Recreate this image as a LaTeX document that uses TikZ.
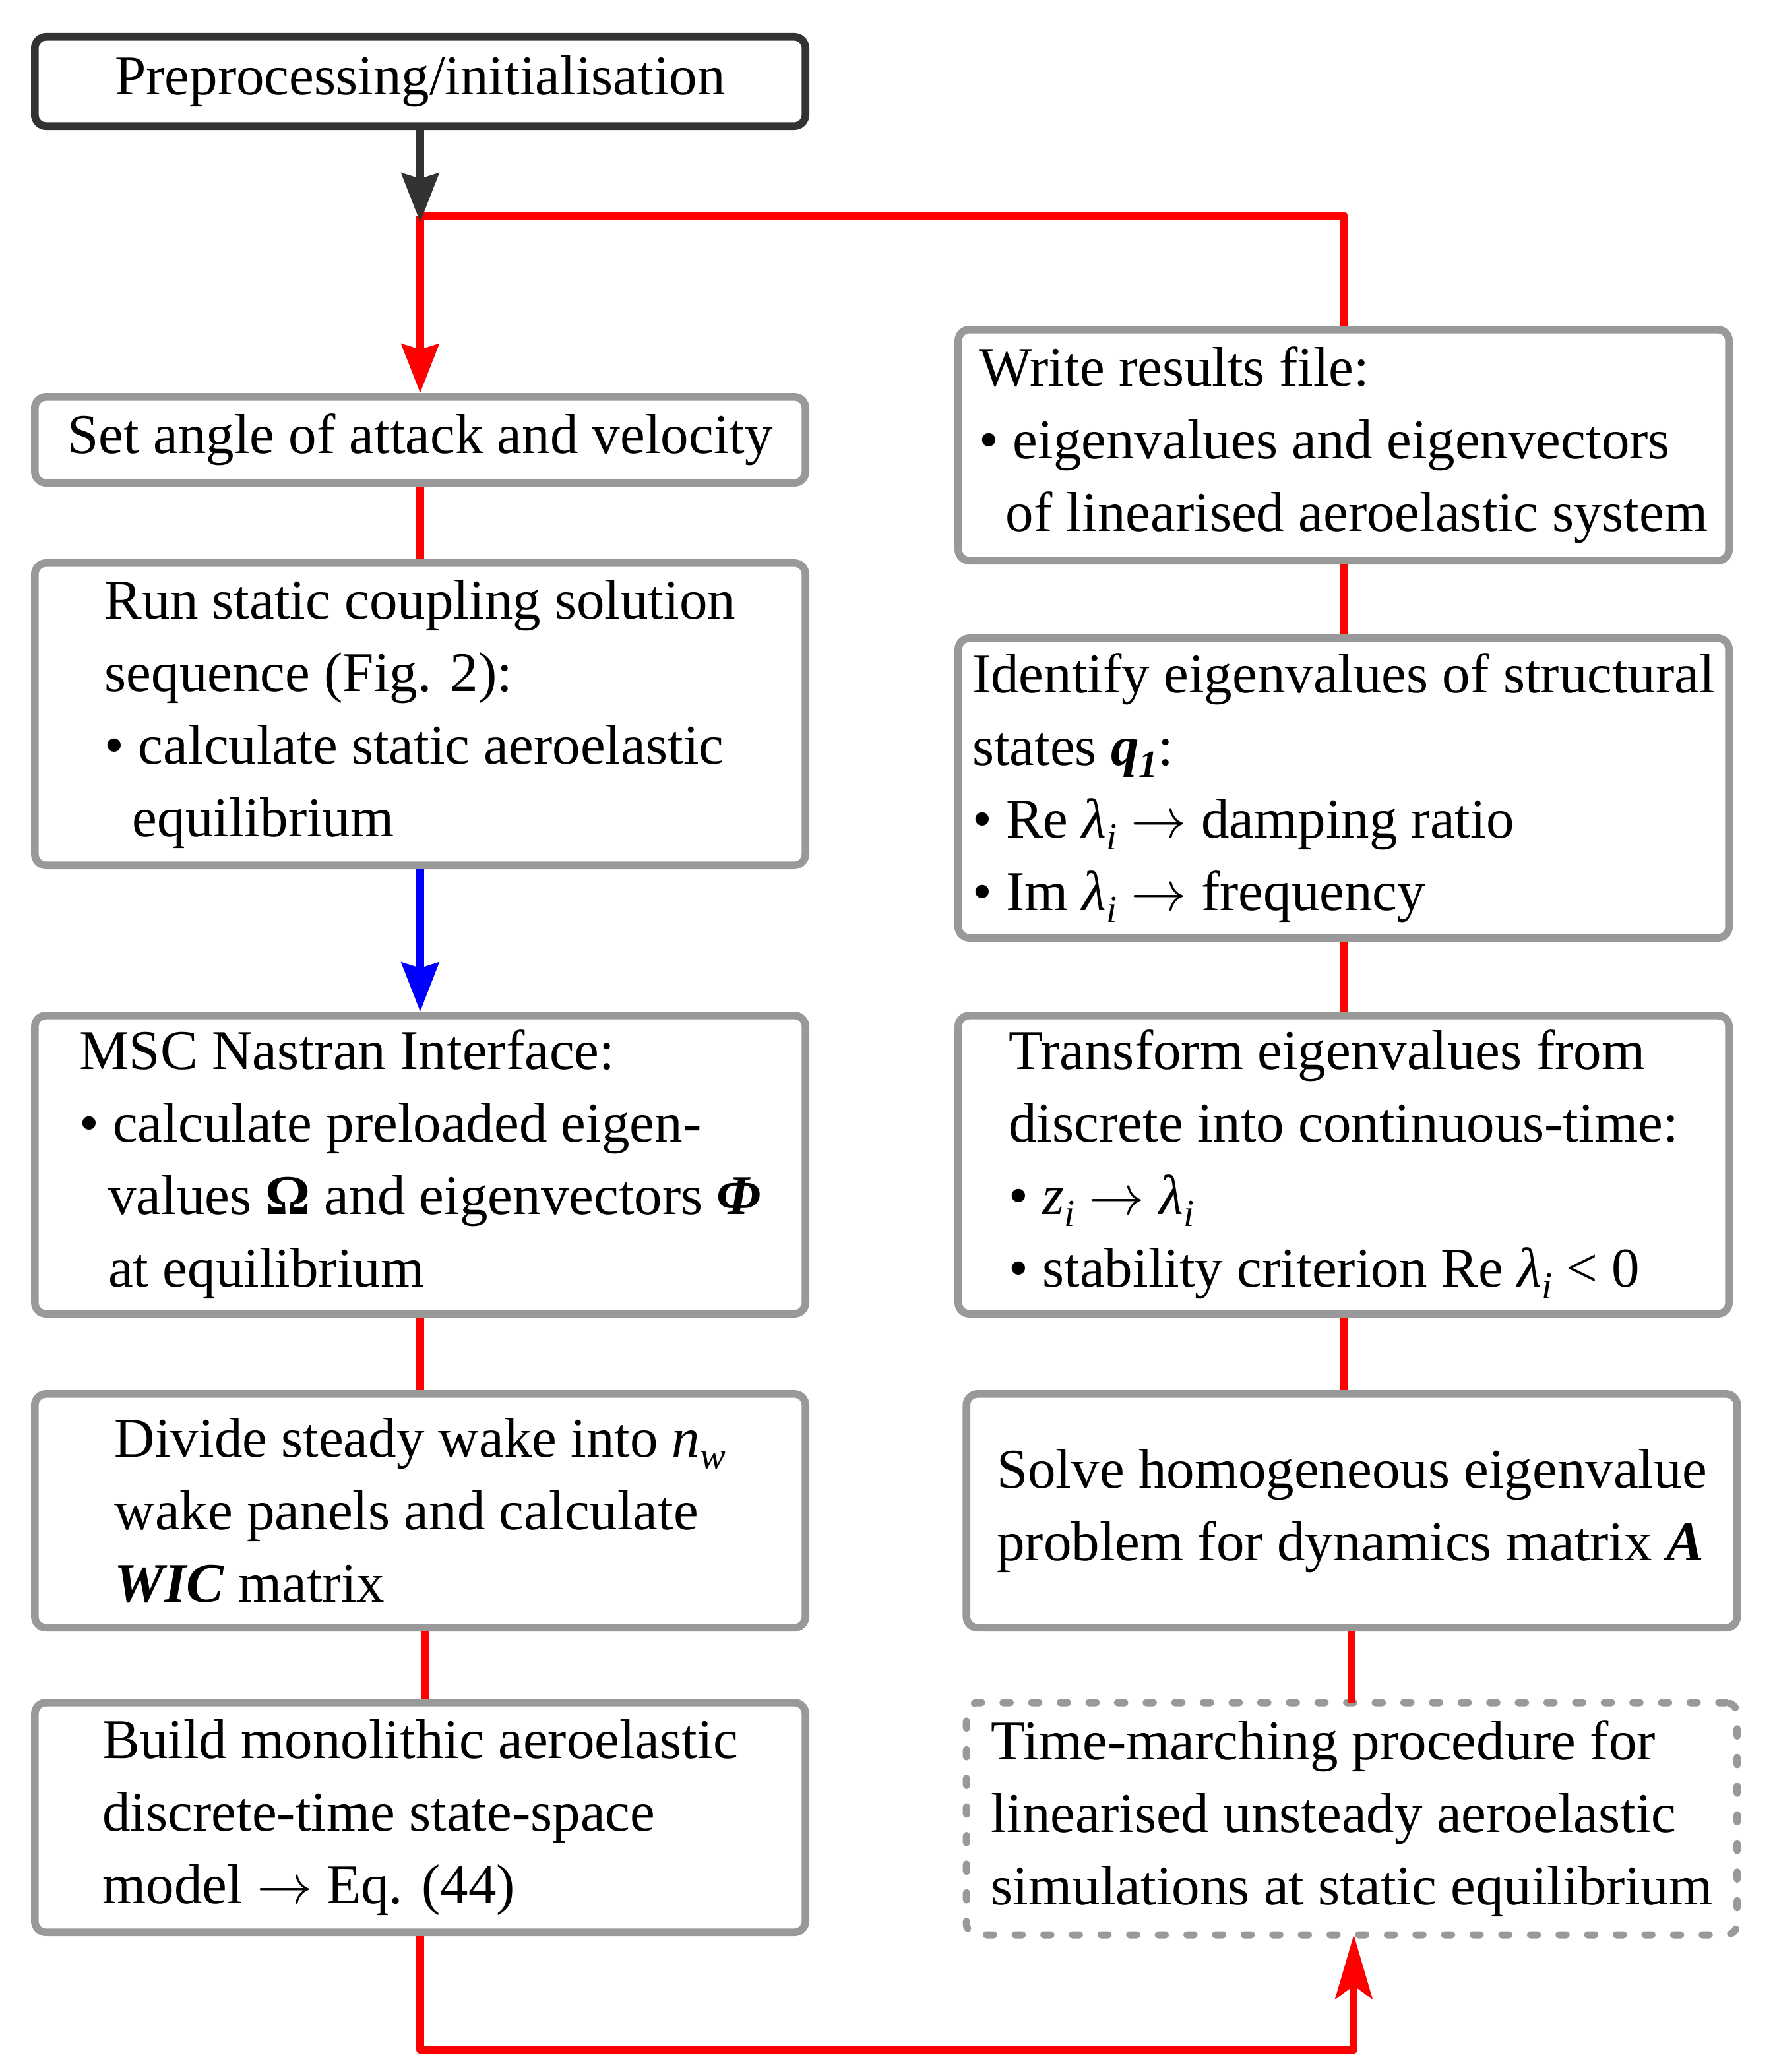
\RequirePackage{fix-cm}
\documentclass[tikz,border=0pt]{standalone}
\usepackage{fontspec}
\setmainfont{Liberation Serif}
\usetikzlibrary{arrows.meta}
\definecolor{dk}{HTML}{333333}
\definecolor{gr}{HTML}{999999}
\definecolor{rd}{HTML}{FF0000}
\definecolor{bl}{HTML}{0000FF}
\newcommand\bi[1]{\textbf{\textit{#1}}}
\newcommand\sbs[1]{\raisebox{-9pt}{\fontsize{29pt}{29pt}\selectfont #1}}
\newcommand\lam{\textit{λ}\sbs{\textit{i}}}
\newcommand\ra{$\rightarrow$}
\tikzset{
  box/.style={draw=gr, line width=5.8pt, rounded corners=8.5pt, fill=white,
    minimum width=584.2pt, inner sep=2pt, align=left, text=black,
    font=\fontsize{42.5pt}{55pt}\selectfont},
  dotbox/.style={box, draw=gr, line width=5.5pt, outer sep=0pt,
    dash pattern=on 5.5pt off 16.2pt, line cap=round},
  conn/.style={line width=5.8pt, draw=rd, line join=round},
  tipA/.style={-{Stealth[length=37pt,width=28pt,inset=4pt]}},
  tipB/.style={-{Stealth[length=48.5pt,width=28pt,inset=10pt]}},
}
\begin{document}
\begin{tikzpicture}[x=1pt,y=-1pt]
\useasboundingbox (0,0) rectangle (1345,1571);
% left column
\node[box, draw=dk, minimum height=67.7pt] (pre) at (318.5,61.75) {Preprocessing/initialisation};
\node[box, minimum height=65.2pt] (set) at (318.5,333.5) {Set angle of attack and velocity};
\node[box, minimum height=229.2pt] (run) at (318.5,541.5) {Run static coupling solution\\ sequence (Fig. 2):\\ • calculate static aeroelastic\\ \hspace*{21pt}equilibrium};
\node[box, minimum height=226.2pt] (msc) at (318.5,883) {MSC Nastran Interface:\\ • calculate preloaded eigen-\\ \hspace*{22pt}values \textbf{Ω} and eigenvectors \bi{Φ}\\ \hspace*{22pt}at equilibrium};
\node[box, minimum height=177.2pt] (div) at (318.5,1145.5) {Divide steady wake into \textit{n}\sbs{\textit{w}}\\ wake panels and calculate\\ \bi{WIC} matrix};
\node[box, minimum height=174.2pt] (bld) at (318.5,1378) {Build monolithic aeroelastic\\ discrete-time state-space\\ model \ra{} Eq. (44)};
% right column
\node[box, minimum height=175.2pt] (wrt) at (1018.5,337.5) {Write results file:\\ • eigenvalues and eigenvectors\\ \hspace*{20pt}of linearised aeroelastic system};
\node[box, minimum height=227.2pt] (idt) at (1018.5,597.5) {Identify eigenvalues of structural\\ states \bi{q}\sbs{\bi{1}}:\\ • Re \lam{} \ra{} damping ratio\\ • Im \lam{} \ra{} frequency};
\node[box, minimum height=226.2pt] (trf) at (1018.5,883) {Transform eigenvalues from\\ discrete into continuous-time:\\ • \textit{z}\sbs{\textit{i}} \ra{} \lam\\ • stability criterion Re \lam{} < 0};
\node[box, minimum height=177.2pt] (slv) at (1024.7,1145.5) {Solve homogeneous eigenvalue\\ problem for dynamics matrix \bi{A}};
\node[dotbox, minimum width=584.2pt, minimum height=176pt] (tim) at (1024.7,1379) {Time-marching procedure for\\ linearised unsteady aeroelastic\\ simulations at static equilibrium};
% connectors
\coordinate (j) at (318.5,163.5);
\draw[conn] (j) -| (wrt.north);
\draw[conn, tipA] (j) -- (set.north);
\draw[line width=5.8pt, draw=dk, tipA] (pre.south) -- ([yshift=-5pt]j);
\draw[conn] (set.south) -- (run.north);
\draw[line width=5.8pt, draw=bl, tipA] (run.south) -- (msc.north);
\draw[conn] (msc.south) -- (div.north);
\draw[conn] ([xshift=4pt]div.south) -- ([xshift=4pt]bld.north);
\draw[conn] (wrt.south) -- (idt.north);
\draw[conn] (idt.south) -- (trf.north);
\draw[conn] (trf.south) -- (trf.south |- slv.north);
\draw[conn] (slv.south) -- (tim.north);
\draw[conn, tipB] (bld.south) -- ++(0,86) -| ([xshift=1.5pt]tim.south);
\end{tikzpicture}
\end{document}
